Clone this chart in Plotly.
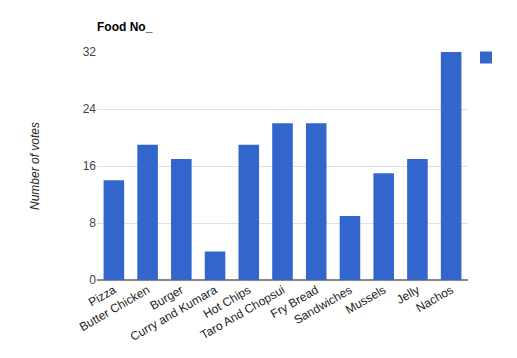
import plotly.graph_objects as go

foods = ["Pizza", "Butter Chicken", "Burger", "Curry and Kumara", "Hot Chips",
         "Taro And Chopsui", "Fry Bread", "Sandwiches", "Mussels", "Jelly", "Nachos"]
votes = [14, 19, 17, 4, 19, 22, 22, 9, 15, 17, 32]
y_ticks = [0, 8, 16, 24, 32]

fig = go.Figure()
fig.add_trace(go.Bar(x=foods, y=votes, name=" ", marker=dict(color="#3366cc", line=dict(width=0)),
                     showlegend=True))

fig.update_layout(
    width=517, height=358,
    margin=dict(l=97, r=49, t=52, b=78, autoexpand=False),
    paper_bgcolor="white", plot_bgcolor="white",
    font=dict(family="Liberation Sans, Arial", size=12, color="#222"),
    title=dict(text="<b>Food No_</b>", x=97/517, xanchor="left", y=1-27/358, yanchor="middle",
               font=dict(size=12, color="#000")),
    bargap=0.39,
    showlegend=True,
    legend=dict(xref="container", yref="container", x=466/517, y=1-43/358,
                xanchor="left", yanchor="top", font=dict(size=11),
                itemwidth=30),
    xaxis=dict(tickangle=-30, tickfont=dict(size=12, color="#222"), showgrid=False,
               showline=False, ticks=""),
    yaxis=dict(range=[0, 32], tickvals=y_ticks, gridcolor="#e0e0e0", gridwidth=1,
               zeroline=True, zerolinecolor="#888888", zerolinewidth=2,
               tickfont=dict(size=12, color="#444"), ticks="", ticklen=0,
               title=dict(text="<i>Number of votes</i>", font=dict(size=12, color="#222"), standoff=40)),
)

fig.write_html("out.html")
